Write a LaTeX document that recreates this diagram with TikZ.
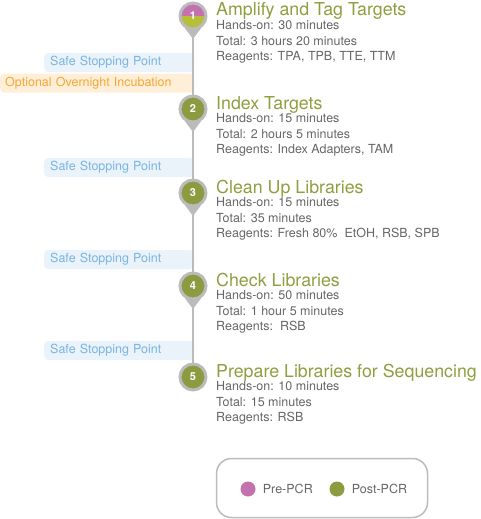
\documentclass[tikz,border=0pt]{standalone}
\usepackage{fontspec}
\setmainfont{TeX Gyre Heros}
\usetikzlibrary{calc,positioning}
\definecolor{premag}{HTML}{C371AF}
\definecolor{prelime}{HTML}{B7BE3A}
\definecolor{postgreen}{HTML}{8C9B40}
\definecolor{titlegreen}{HTML}{8D9F3F}
\definecolor{bodygray}{HTML}{666666}
\definecolor{railgray}{HTML}{BBBBBB}
\definecolor{safefill}{HTML}{EAF2FA}
\definecolor{safetext}{HTML}{7AB5E3}
\definecolor{incfill}{HTML}{FFEFD9}
\definecolor{inctext}{HTML}{F5A733}
\tikzset{
  stepdot/.style={circle,minimum size=26pt,inner sep=0pt,fill=postgreen,draw=railgray,
    line width=3pt,text=white,font=\fontsize{11}{11}\selectfont\bfseries},
  steptitle/.style={anchor=base west,inner sep=0pt,text=titlegreen,font=\fontsize{17.8}{20}\selectfont},
  stepinfo/.style={anchor=north west,inner sep=0pt,text=bodygray,align=left,
    font=\fontsize{12.5}{15.5}\selectfont},
  stopbox/.style={anchor=west,fill=safefill,text=safetext,rounded corners=4pt,
    minimum height=19pt,inner xsep=6pt,text width=138pt,align=left,font=\fontsize{12.5}{14}\selectfont},
  incbox/.style={stopbox,fill=incfill,text=inctext,inner xsep=5pt,text width=184pt},
  rail/.style={draw=railgray,line width=2pt},
  legdot/.style={circle,minimum size=15pt,inner sep=0pt},
  legtext/.style={text=bodygray,inner sep=0pt,font=\fontsize{12.5}{14}\selectfont}
}
\newcommand{\pintip}[1]{\fill[railgray] (#1.-55) -- ($(#1.south)+(0,-8.5)$) -- (#1.-125) -- cycle;}

\begin{document}
\begin{tikzpicture}[x=1pt,y=1pt]
  \useasboundingbox (0,0) rectangle (480,-519);
  % stopping points
  \node[stopbox] (stop1) at (44,-62.5) {Safe Stopping Point};
  \node[incbox] (incub) at (0,-83) {Optional Overnight Incubation};
  \node[stopbox] (stop2) at (44,-167.5) {Safe Stopping Point};
  \node[stopbox] (stop3) at (44,-259.5) {Safe Stopping Point};
  \node[stopbox] (stop4) at (44,-350.5) {Safe Stopping Point};
  % steps
  \node[stepdot,path picture={\fill[premag] (path picture bounding box.north west)
    rectangle (path picture bounding box.east);},fill=prelime] (s1) at (193,-16) {1};
  \node[stepdot] (s2) at (193,-109) {2};
  \node[stepdot] (s3) at (193,-193) {3};
  \node[stepdot] (s4) at (193,-286) {4};
  \node[stepdot] (s5) at (193,-377) {5};
  \pintip{s1} \pintip{s2} \pintip{s3} \pintip{s4}
  \draw[rail] (s1) -- (s2);
  \draw[rail] (s2) -- (s3);
  \draw[rail] (s3) -- (s4);
  \draw[rail] (s4) -- (s5);
  % texts
  \node[steptitle] (t1) at (216,-16) {Amplify and Tag Targets};
  \node[stepinfo] (i1) at (216,-20.5) {Hands-on: 30 minutes\\Total: 3 hours 20 minutes\\Reagents: TPA, TPB, TTE, TTM};
  \node[steptitle] (t2) at (216,-109) {Index Targets};
  \node[stepinfo] (i2) at (216,-113.5) {Hands-on: 15 minutes\\Total: 2 hours 5 minutes\\Reagents: Index Adapters, TAM};
  \node[steptitle] (t3) at (216,-193) {Clean Up Libraries};
  \node[stepinfo] (i3) at (216,-197.5) {Hands-on: 15 minutes\\Total: 35 minutes\\Reagents: Fresh 80\%\ \ EtOH, RSB, SPB};
  \node[steptitle] (t4) at (216,-286) {Check Libraries};
  \node[stepinfo] (i4) at (216,-290.5) {Hands-on: 50 minutes\\Total: 1 hour 5 minutes\\Reagents:\ \ RSB};
  \node[steptitle] (t5) at (216,-377) {Prepare Libraries for Sequencing};
  \node[stepinfo] (i5) at (216,-381.5) {Hands-on: 10 minutes\\Total: 15 minutes\\Reagents: RSB};
  % legend
  \node[draw=railgray,line width=1.5pt,rounded corners=15pt,minimum width=211pt,
    minimum height=59pt] (legend) at (322,-488) {};
  \node[legdot,fill=premag] (pre) at (248,-489) {};
  \node[legtext,right=7pt of pre] (pretxt) {Pre-PCR};
  \node[legdot,fill=postgreen] (post) at (337,-489) {};
  \node[legtext,right=7pt of post] (posttxt) {Post-PCR};
\end{tikzpicture}
\end{document}
